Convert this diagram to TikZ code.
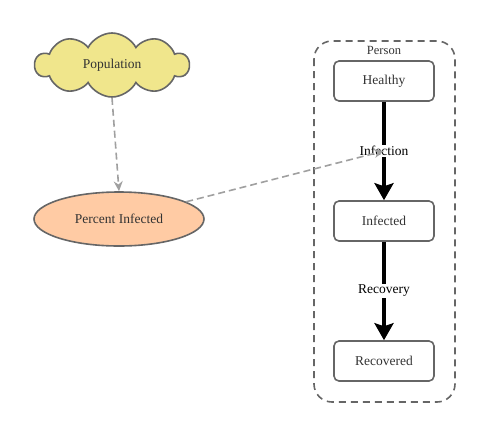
\documentclass[tikz,border=0pt]{standalone}
\usepackage{fontspec}
\setmainfont{Liberation Serif}
\usetikzlibrary{shapes.symbols,shapes.geometric,arrows.meta}
\definecolor{edgegrey}{HTML}{666666}
\definecolor{dashgrey}{HTML}{A0A0A0}
\definecolor{khaki}{HTML}{F0E68C}
\definecolor{peach}{HTML}{FFCBA4}
\definecolor{txtgrey}{HTML}{333333}
\tikzset{
  stock/.style={draw=edgegrey, line width=1.6pt, rounded corners=5pt, minimum width=100pt, minimum height=40pt, text=txtgrey, font=\fontsize{13.5}{15}\selectfont},
  flow/.style={line width=4pt, -{Stealth[width=19pt,length=17pt,inset=3pt]}},
  flowlabel/.style={fill=white, inner sep=1pt, text=black, font=\fontsize{13.5}{15}\selectfont},
  link/.style={draw=dashgrey, line width=1.6pt, dash pattern=on 7pt off 4pt, -{Stealth[length=10pt,width=9pt,fill=dashgrey]}},
}
\begin{document}
\begin{tikzpicture}[x=1pt,y=-1pt]
\useasboundingbox (0,0) rectangle (479,424);
% group
\draw[draw=edgegrey, line width=1.6pt, dash pattern=on 7pt off 5pt, rounded corners=18pt] (314,41) rectangle (455,402);
\node[text=txtgrey, font=\fontsize{12.5}{14}\selectfont] (grp) at (384,50) {Person};
% stocks
\node[stock] (healthy) at (384,81) {Healthy};
\node[stock] (infected) at (384,221) {Infected};
\node[stock] (recovered) at (384,361) {Recovered};
% flows
\draw[flow] (healthy.south) -- (infected.north) node[flowlabel, pos=0.5] (inf) {Infection};
\draw[flow] (infected.south) -- (recovered.north) node[flowlabel, pos=0.5] (rec) {Recovery};
% variables
\node[cloud, cloud puffs=10, cloud puff arc=125, aspect=2.4, draw=edgegrey, line width=1.6pt, fill=khaki, minimum width=154pt, minimum height=64pt, inner sep=0pt, text=txtgrey, font=\fontsize{13.5}{15}\selectfont] (pop) at (112,65) {Population};
\node[ellipse, draw=edgegrey, line width=1.6pt, fill=peach, minimum width=170pt, minimum height=54pt, inner sep=0pt, text=txtgrey, font=\fontsize{13.5}{15}\selectfont] (pct) at (119,219) {Percent Infected};
% links
\draw[link] (pop.south) -- (pct.north);
\draw[link] (pct) -- (inf.center);
\end{tikzpicture}
\end{document}
